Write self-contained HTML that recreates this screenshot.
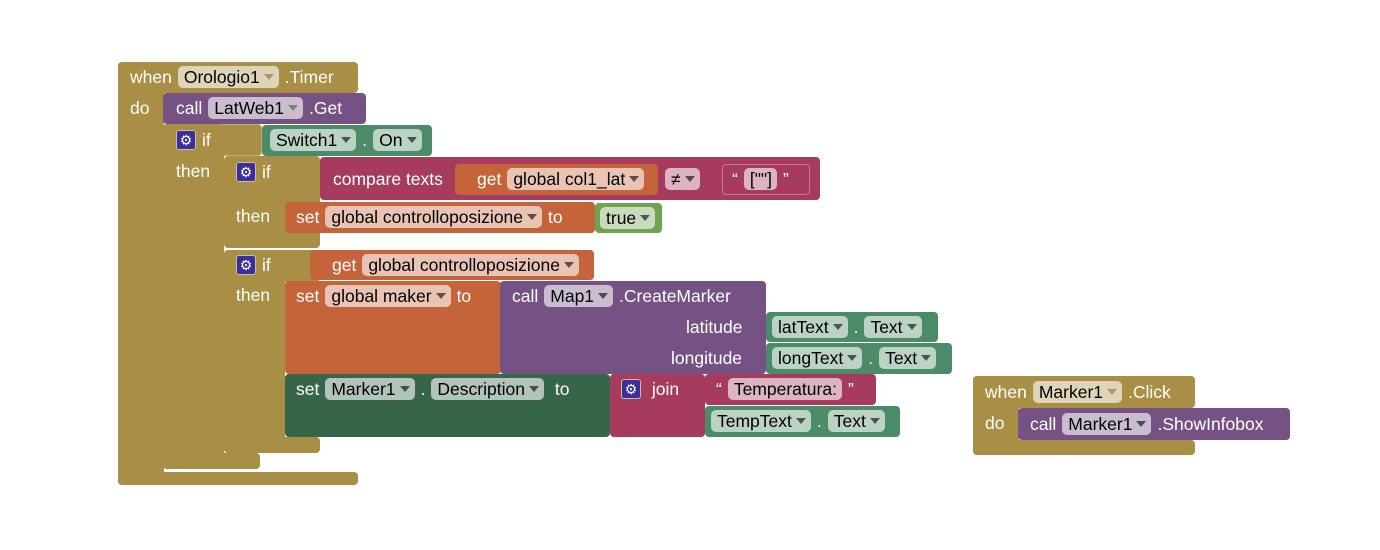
<!DOCTYPE html>
<html><head><meta charset="utf-8"><style>
body{margin:0;width:1380px;height:550px;background:#fff;position:relative;overflow:hidden;font-family:"Liberation Sans",sans-serif}
.b{position:absolute;border-radius:4px}
.r{position:absolute;display:flex;align-items:center;gap:6px;color:#fff;font-size:17.5px;height:30px;white-space:nowrap}
.f{background:rgba(255,255,255,.62);color:#000;border-radius:5px;padding:0 5px 0 6px;height:22px;line-height:22px;display:inline-flex;align-items:center;gap:4px}
.t{display:inline-block;width:0;height:0;border-left:5px solid transparent;border-right:5px solid transparent;border-top:6px solid currentColor;opacity:.6}
.g{display:inline-block;width:18px;height:18px;background:#3b2f9e;border:1px solid #c9bfa0;border-radius:3px;color:#fff;font-size:14px;line-height:18px;text-align:center}
.gold{background:#a98e45}.pur{background:#755283}.grn{background:#4c8b68}.dgr{background:#36654a}.org{background:#c5633a}.pnk{background:#a73b5e}.lgr{background:#6ea451}
</style></head><body>
<!-- event 1 -->
<div class="b gold" style="left:118px;top:62px;width:240px;height:31px"></div>
<div class="b gold" style="left:118px;top:62px;width:46px;height:423px"></div>
<div class="b gold" style="left:118px;top:472px;width:240px;height:13px"></div>
<div class="r" style="left:130px;top:62px">when <span class="f" style="color:#000">Orologio1 <i class="t" style="color:#8a7030"></i></span>.Timer</div>
<div class="r" style="left:130px;top:93px">do</div>
<div class="b pur" style="left:163px;top:93px;width:203px;height:31px"></div>
<div class="r" style="left:176px;top:93px">call <span class="f">LatWeb1 <i class="t" style="color:#553"></i></span>.Get</div>
<!-- outer if -->
<div class="b gold" style="left:163px;top:124px;width:99px;height:32px;border:1px solid #c2ad70;box-sizing:border-box"></div>
<div class="b gold" style="left:163px;top:124px;width:61px;height:345px"></div>
<div class="b gold" style="left:163px;top:453px;width:97px;height:16px"></div>
<div class="r" style="left:176px;top:125px"><span class="g">⚙</span> if</div>
<div class="r" style="left:176px;top:156px">then</div>
<div class="b grn" style="left:262px;top:125px;width:170px;height:31px"></div>
<div class="r" style="left:270px;top:125px"><span class="f">Switch1 <i class="t"></i></span>.<span class="f">On <i class="t"></i></span></div>
<!-- inner if 1 -->
<div class="b gold" style="left:224px;top:156px;width:96px;height:92px"></div>
<div class="r" style="left:236px;top:157px"><span class="g">⚙</span> if</div>
<div class="r" style="left:236px;top:201px">then</div>
<div class="b pnk" style="left:320px;top:157px;width:500px;height:43px"></div>
<div class="r" style="left:333px;top:164px">compare texts</div>
<div class="b org" style="left:455px;top:164px;width:203px;height:31px"></div>
<div class="r" style="left:477px;top:164px">get <span class="f">global col1_lat <i class="t"></i></span></div>
<div class="r" style="left:665px;top:164px"><span class="f">≠ <i class="t"></i></span></div>
<div class="b pnk" style="left:722px;top:164px;width:88px;height:31px;border:1px solid #c57a92;box-sizing:border-box"></div>
<div class="r" style="left:732px;top:164px">“ <span class="f">[""]</span> ”</div>
<div class="b org" style="left:285px;top:202px;width:310px;height:31px"></div>
<div class="r" style="left:296px;top:202px">set <span class="f">global controlloposizione <i class="t"></i></span> to</div>
<div class="b lgr" style="left:595px;top:203px;width:67px;height:30px"></div>
<div class="r" style="left:600px;top:203px"><span class="f">true <i class="t"></i></span></div>
<!-- inner if 2 -->
<div class="b gold" style="left:224px;top:250px;width:96px;height:32px"></div>
<div class="b gold" style="left:224px;top:250px;width:61px;height:203px"></div>
<div class="b gold" style="left:224px;top:437px;width:96px;height:16px"></div>
<div class="r" style="left:236px;top:250px"><span class="g">⚙</span> if</div>
<div class="r" style="left:236px;top:280px">then</div>
<div class="b org" style="left:310px;top:250px;width:284px;height:30px"></div>
<div class="r" style="left:332px;top:250px">get <span class="f">global controlloposizione <i class="t"></i></span></div>
<div class="b org" style="left:285px;top:281px;width:216px;height:93px"></div>
<div class="r" style="left:296px;top:281px">set <span class="f">global maker <i class="t"></i></span> to</div>
<div class="b pur" style="left:500px;top:281px;width:266px;height:93px"></div>
<div class="r" style="left:512px;top:281px">call <span class="f">Map1 <i class="t"></i></span>.CreateMarker</div>
<div class="r" style="left:686px;top:312px">latitude</div>
<div class="r" style="left:671px;top:343px">longitude</div>
<div class="b grn" style="left:766px;top:312px;width:172px;height:30px"></div>
<div class="r" style="left:772px;top:312px"><span class="f">latText <i class="t"></i></span>.<span class="f">Text <i class="t"></i></span></div>
<div class="b grn" style="left:766px;top:343px;width:186px;height:31px"></div>
<div class="r" style="left:772px;top:343px"><span class="f">longText <i class="t"></i></span>.<span class="f">Text <i class="t"></i></span></div>
<div class="b dgr" style="left:285px;top:374px;width:325px;height:63px"></div>
<div class="r" style="left:296px;top:374px">set <span class="f">Marker1 <i class="t"></i></span>.<span class="f">Description <i class="t"></i></span>&nbsp;to</div>
<div class="b pnk" style="left:610px;top:374px;width:95px;height:63px"></div>
<div class="r" style="left:621px;top:374px"><span class="g">⚙</span>&nbsp;join</div>
<div class="b pnk" style="left:705px;top:374px;width:171px;height:31px"></div>
<div class="r" style="left:716px;top:374px">“ <span class="f">Temperatura:</span> ”</div>
<div class="b grn" style="left:705px;top:406px;width:195px;height:31px"></div>
<div class="r" style="left:711px;top:406px"><span class="f">TempText <i class="t"></i></span>.<span class="f">Text <i class="t"></i></span></div>
<!-- event 2 -->
<div class="b gold" style="left:973px;top:376px;width:222px;height:32px"></div>
<div class="b gold" style="left:973px;top:376px;width:46px;height:79px"></div>
<div class="b gold" style="left:973px;top:440px;width:222px;height:15px"></div>
<div class="r" style="left:985px;top:377px">when <span class="f">Marker1 <i class="t" style="color:#8a7030"></i></span>.Click</div>
<div class="r" style="left:985px;top:408px">do</div>
<div class="b pur" style="left:1018px;top:408px;width:272px;height:32px"></div>
<div class="r" style="left:1030px;top:409px">call <span class="f">Marker1 <i class="t"></i></span>.ShowInfobox</div>
</body></html>
